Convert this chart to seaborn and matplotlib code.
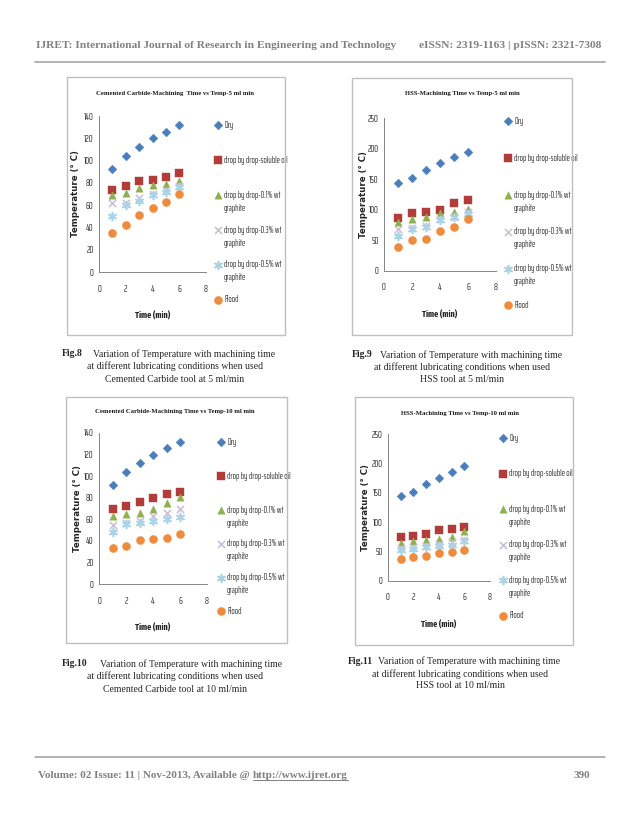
import matplotlib
matplotlib.use("Agg")
import matplotlib.pyplot as plt
import numpy as np
import pandas as pd
import seaborn as sns
from matplotlib.patches import Rectangle
from matplotlib.lines import Line2D

sns.set_style("white")
narrow = ['Fira Sans Extra Condensed', 'Roboto Condensed', 'Carlito', 'DejaVu Sans']
xnarrow = ['Saira ExtraCondensed', 'Fira Sans Extra Condensed', 'Roboto Condensed', 'DejaVu Sans']
serif = ['Liberation Serif', 'DejaVu Serif']
plt.rcParams['font.family'] = narrow

# ---- data ----
time_min = [1, 2, 3, 4, 5, 6]
series_names = ['Dry', 'drop by drop-soluble oil', 'drop by drop-0.1% wt\ngraphite',
                'drop by drop-0.3% wt\ngraphite', 'drop by drop-0.5% wt\ngraphite', 'Flood']

cc5_dry = [92, 104, 112, 120, 126, 132]
cc5_oil = [74, 77, 82, 83, 85, 89]
cc5_g01 = [69, 71, 75, 78, 79, 82]
cc5_g03 = [62, 62, 66, 70, 74, 77]
cc5_g05 = [50, 60, 64, 69, 72, 76]
cc5_flood = [35, 42, 51, 57, 63, 70]

hss5_dry = [144, 152, 165, 176, 186, 195]
hss5_oil = [87, 95, 97, 100, 111, 116]
hss5_g01 = [80, 85, 88, 95, 97, 102]
hss5_g03 = [68, 70, 74, 85, 89, 96]
hss5_g05 = [57, 68, 72, 84, 88, 93]
hss5_flood = [40, 50, 52, 65, 72, 85]

cc10_dry = [92, 104, 112, 120, 126, 132]
cc10_oil = [70, 72, 76, 80, 83, 85]
cc10_g01 = [63, 65, 66, 70, 75, 81]
cc10_g03 = [55, 57, 58, 63, 66, 70]
cc10_g05 = [48, 56, 57, 58, 60, 62]
cc10_flood = [33, 35, 41, 42, 43, 46]

hss10_dry = [144, 152, 165, 176, 186, 195]
hss10_oil = [74, 77, 80, 86, 89, 91]
hss10_g01 = [65, 68, 70, 72, 75, 85]
hss10_g03 = [56, 58, 60, 63, 66, 70]
hss10_g05 = [52, 54, 57, 60, 62, 68]
hss10_flood = [37, 40, 43, 47, 49, 52]

panels = [
    dict(title='Cemented Carbide-Machining  Time vs Temp-5 ml min', ymax=140, ystep=20,
         data=[cc5_dry, cc5_oil, cc5_g01, cc5_g03, cc5_g05, cc5_flood],
         ax=(99, 116, 206, 272), box=(67, 77, 285, 335), leg=(214, 121), lsp=1.47,
         ylx=75, tt=(175, 94)),
    dict(title='HSS-Machining Time vs Temp-5 ml min', ymax=250, ystep=50,
         data=[hss5_dry, hss5_oil, hss5_g01, hss5_g03, hss5_g05, hss5_flood],
         ax=(384, 118, 496, 271), box=(352, 78, 572, 335), leg=(504, 117), lsp=1.69,
         ylx=363, tt=(462, 94)),
    dict(title='Cemented Carbide-Machining Time vs Temp-10 ml min', ymax=140, ystep=20,
         data=[cc10_dry, cc10_oil, cc10_g01, cc10_g03, cc10_g05, cc10_flood],
         ax=(99, 433, 207, 584), box=(66, 397, 287, 643), leg=(217, 438), lsp=1.35,
         ylx=77, tt=(175, 412)),
    dict(title='HSS-Machining Time vs Temp-10 ml min', ymax=250, ystep=50,
         data=[hss10_dry, hss10_oil, hss10_g01, hss10_g03, hss10_g05, hss10_flood],
         ax=(388, 434, 490, 581), box=(355, 397, 573, 645), leg=(499, 434), lsp=1.54,
         ylx=366, tt=(460, 414)),
]

styles = [
    dict(marker='D', color='#4A7EBB', s=20),
    dict(marker='s', color='#B13C3A', s=38),
    dict(marker='^', color='#8FB04E', s=28),
    dict(marker='x', color='#C9C0DA', s=26),
    dict(marker=(6, 2, 0), color='#A9D3E6', s=32),
    dict(marker='o', color='#EE8B3D', s=34),
]

W, H = 638, 826
fig = plt.figure(figsize=(W / 100, H / 100), dpi=100)


def fx(x):
    return x / W


def fy(y):
    return 1 - y / H


gray = '#808080'

# page header / footer
fig.text(fx(36), fy(45), 'IJRET: International Journal of Research in Engineering and Technology',
         family=serif, weight='bold', color=gray, fontsize=8.2, va='center', ha='left')
fig.text(fx(601), fy(45), 'eISSN: 2319-1163 | pISSN: 2321-7308',
         family=serif, weight='bold', color=gray, fontsize=8.2, va='center', ha='right')
fig.add_artist(Line2D([fx(35), fx(605)], [fy(62), fy(62)], color='#A6A6A6', lw=1.2))
fig.add_artist(Line2D([fx(35), fx(605)], [fy(757), fy(757)], color='#A6A6A6', lw=1.2))
foot = fig.text(fx(38), fy(776), 'Volume: 02 Issue: 11 | Nov-2013, Available @ ',
                family=serif, weight='bold', color=gray, fontsize=8, va='center', ha='left')
fig.text(fx(590), fy(776), '390', family=serif, weight='bold', color=gray,
         fontsize=8, va='center', ha='right')

# captions
captions = [
    ('Fig.8', 62, 93, 175, [354, 366, 379], 'Cemented Carbide tool at 5 ml/min'),
    ('Fig.9', 352, 380, 462, [355, 367, 380], 'HSS tool at 5 ml/min'),
    ('Fig.10', 62, 100, 175, [664, 676, 689], 'Cemented Carbide tool at 10 ml/min'),
    ('Fig.11', 348, 378, 460, [661, 674, 686], 'HSS tool at 10 ml/min'),
]
for lab, xl, xv, xc, ys, last in captions:
    fig.text(fx(xl), fy(ys[0]), lab, family=serif, weight='bold', fontsize=7, va='center')
    fig.text(fx(xv), fy(ys[0]), 'Variation of Temperature with machining time',
             family=serif, fontsize=7, va='center')
    fig.text(fx(xc), fy(ys[1]), 'at different lubricating conditions when used',
             family=serif, fontsize=7, va='center', ha='center')
    fig.text(fx(xc), fy(ys[2]), last, family=serif, fontsize=7, va='center', ha='center')

for p in panels:
    l, t, r, b = p['box']
    fig.patches.append(Rectangle((fx(l), fy(b)), fx(r - l), (b - t) / H, transform=fig.transFigure,
                                 fill=False, edgecolor='#BFBFBF', lw=1.0))
    l, t, r, b = p['ax']
    ax = fig.add_axes([fx(l), fy(b), fx(r - l), (b - t) / H])
    for name, vals, st in zip(series_names, p['data'], styles):
        df = pd.DataFrame({'Time (min)': time_min, 'Temp': vals})
        kw = dict(marker=st['marker'], s=st['s'], label=name, legend=False, ax=ax)
        if st['marker'] in ('x', (6, 2, 0)):
            sns.scatterplot(data=df, x='Time (min)', y='Temp', color=st['color'], linewidth=1.2, **kw)
        else:
            sns.scatterplot(data=df, x='Time (min)', y='Temp', color=st['color'],
                            edgecolor=st['color'], linewidth=0.3, **kw)
    ax.set_xlim(0, 8)
    ax.set_ylim(0, p['ymax'])
    ax.set_xticks(range(0, 9, 2))
    ax.set_yticks(range(0, p['ymax'] + 1, p['ystep']))
    ax.tick_params(labelsize=7, length=2, width=0.6, color='#868686', pad=2, labelcolor='#333333')
    ax.tick_params(axis='x', length=0, pad=9)
    for lbl in ax.get_xticklabels() + ax.get_yticklabels():
        lbl.set_family(xnarrow)
    for sp in ['top', 'right']:
        ax.spines[sp].set_visible(False)
    for sp in ['left', 'bottom']:
        ax.spines[sp].set_color('#868686')
        ax.spines[sp].set_linewidth(0.7)
    fig.text(fx(p['tt'][0]), fy(p['tt'][1]), p['title'], family=serif, weight='bold',
             fontsize=4.8, color='#1a1a1a', ha='center', va='center')
    ax.set_xlabel('Time (min)', fontsize=6.3, weight='bold', labelpad=13, family=narrow)
    ax.set_ylabel('')
    fig.text(fx(p['ylx']), (fy(b) + fy(t)) / 2, 'Temperature (° C)', rotation=90,
             family=['DejaVu Sans'], weight='bold', fontsize=6.2, va='center', ha='center')
    handles, labels = ax.get_legend_handles_labels()
    labels = [lb if '\n' in lb else lb + '\n' for lb in labels]
    leg = ax.legend(handles, labels, loc='upper left', bbox_to_anchor=(fx(p['leg'][0]), fy(p['leg'][1])),
                    bbox_transform=fig.transFigure, frameon=False, scatterpoints=1,
                    prop=dict(family=xnarrow, size=6.3),
                    scatteryoffsets=[1.64], handletextpad=0.15, handlelength=1.0,
                    labelspacing=p['lsp'], borderpad=0, borderaxespad=0)
    for txt in leg.get_texts():
        txt.set_linespacing(1.57)
        txt.set_color('#333333')

# url placed right after the footer text, underlined
fig.canvas.draw()
bb = foot.get_window_extent().transformed(fig.transFigure.inverted())
url = fig.text(bb.x1, fy(776), 'http://www.ijret.org', family=serif, weight='bold', color=gray,
               fontsize=8, va='center', ha='left')
fig.canvas.draw()
ub = url.get_window_extent().transformed(fig.transFigure.inverted())
fig.add_artist(Line2D([ub.x0, ub.x1], [ub.y0 + 0.001, ub.y0 + 0.001], color=gray, lw=0.7))

fig.savefig('out.png', dpi=100)
